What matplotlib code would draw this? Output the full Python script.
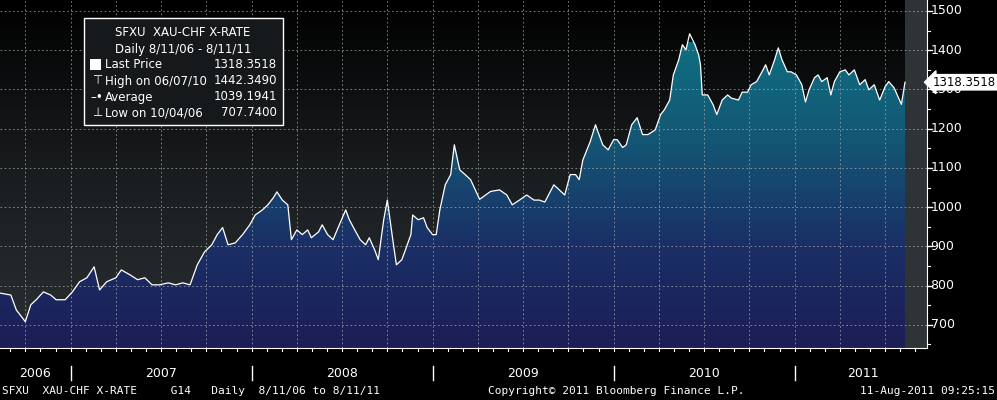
import numpy as np
import matplotlib
matplotlib.use("Agg")
import matplotlib.pyplot as plt
from matplotlib.colors import LinearSegmentedColormap
from matplotlib.patches import Polygon

t = [2006.61,2006.67,2006.70,2006.75,2006.78,2006.81,2006.85,2006.89,2006.92,2006.97,
     2007.01,2007.05,2007.09,2007.13,2007.16,2007.20,2007.25,2007.28,2007.33,2007.37,
     2007.41,2007.45,2007.49,2007.54,2007.58,2007.62,2007.66,2007.70,2007.74,2007.78,
     2007.81,2007.84,2007.87,2007.91,2007.95,2007.99,2008.02,2008.06,2008.09,2008.12,
     2008.14,2008.17,2008.20,2008.22,2008.25,2008.28,2008.31,2008.33,2008.37,2008.39,
     2008.42,2008.45,2008.48,2008.52,2008.54,2008.57,2008.60,2008.63,2008.65,2008.68,
     2008.70,2008.73,2008.75,2008.78,2008.80,2008.83,2008.85,2008.88,2008.89,2008.92,
     2008.95,2008.97,2009.00,2009.02,2009.04,2009.07,2009.10,2009.12,2009.15,2009.18,
     2009.21,2009.26,2009.32,2009.37,2009.41,2009.44,2009.48,2009.52,2009.56,2009.59,
     2009.62,2009.67,2009.70,2009.73,2009.76,2009.79,2009.81,2009.83,2009.87,2009.90,
     2009.91,2009.94,2009.97,2010.00,2010.02,2010.05,2010.07,2010.10,2010.13,2010.16,
     2010.19,2010.23,2010.26,2010.28,2010.31,2010.33,2010.36,2010.38,2010.40,2010.42,
     2010.45,2010.47,2010.48,2010.49,2010.52,2010.55,2010.57,2010.60,2010.63,2010.65,
     2010.69,2010.71,2010.74,2010.76,2010.79,2010.82,2010.84,2010.86,2010.89,2010.91,
     2010.93,2010.96,2010.98,2011.01,2011.04,2011.06,2011.08,2011.11,2011.13,2011.15,
     2011.18,2011.20,2011.22,2011.25,2011.28,2011.30,2011.33,2011.36,2011.39,2011.41,
     2011.44,2011.47,2011.50,2011.52,2011.55,2011.59,2011.61]
price = [781,776,738,708,751,764,784,776,764,764,
         784,810,820,848,789,810,820,840,827,815,
         820,802,802,807,802,807,802,853,886,904,
         930,948,904,909,930,955,980,993,1006,1024,
         1039,1018,1006,917,942,930,942,922,937,955,
         930,917,950,993,968,942,917,904,922,891,
         866,968,1018,917,853,866,891,930,980,968,
         973,948,930,930,993,1057,1083,1159,1095,1083,
         1070,1020,1040,1044,1031,1006,1018,1031,1018,1018,
         1013,1057,1044,1031,1083,1083,1070,1120,1166,1210,
         1197,1159,1146,1172,1172,1152,1159,1210,1228,1185,
         1185,1197,1236,1248,1273,1337,1376,1414,1401,1442,
         1414,1388,1363,1286,1286,1261,1236,1273,1286,1278,
         1273,1293,1293,1312,1320,1345,1363,1337,1376,1406,
         1376,1345,1345,1337,1312,1268,1299,1330,1337,1320,
         1330,1286,1320,1345,1350,1337,1350,1312,1325,1299,
         1312,1273,1307,1320,1304,1262,1318.3518]

year_labels = ["2006", "2007", "2008", "2009", "2010", "2011"]
yticks = [700, 800, 900, 1000, 1100, 1200, 1300, 1400, 1500]

W, H = 997, 400
fig = plt.figure(figsize=(W/100, H/100), dpi=100, facecolor="black")
ax = fig.add_axes([0, 52/400, 927/997, 348/400])
x0, x1 = 2006.61, 2006.61 + 927/181
y0, y1 = 641, 1528
ax.set_xlim(x0, x1); ax.set_ylim(y0, y1)

# background gradient: black at top, dark grey lower
bg = LinearSegmentedColormap.from_list("bg", ["#000000", "#1a1d1f", "#2a2f31"])
ax.imshow(np.linspace(0, 1, 256).reshape(-1, 1), extent=[x0, x1, y0, y1],
          aspect="auto", cmap=bg, zorder=0)
ax.axvspan(t[-1], x1, color="#2e3436", zorder=0.5, lw=0)

# filled area gradient
fc = LinearSegmentedColormap.from_list("fc", ["#1d1d56", "#1a2f66", "#145574", "#0e6f80"])
im = ax.imshow(np.linspace(0, 1, 256).reshape(-1, 1), extent=[x0, t[-1], y0, 1420],
               origin="lower", aspect="auto", cmap=fc, zorder=1)
verts = [(t[0], y0)] + list(zip(t, price)) + [(t[-1], y0)]
poly = Polygon(verts, closed=True, facecolor="none", edgecolor="none")
ax.add_patch(poly)
im.set_clip_path(poly)
ax.plot(t, price, color="white", lw=0.9, zorder=3)

# grid
for y in yticks:
    ax.axhline(y, color="#b0b0b0", lw=0.6, ls=(0, (2, 3)), zorder=2, alpha=0.8)
for q in np.arange(2006.75, x1, 0.25):
    ax.axvline(q, color="#b0b0b0", lw=0.6, ls=(0, (2, 3)), zorder=2, alpha=0.8)

ax.set_xticks([]); ax.set_yticks([])
for s in ["top", "left"]:
    ax.spines[s].set_visible(False)
ax.spines["bottom"].set_color("white")
ax.spines["right"].set_color("white")

# right axis labels
for y in yticks:
    ax.text(x1 + 0.02, y, y, color="white", fontsize=9, va="center", ha="left",
            clip_on=False)
    ax.plot([x1, x1 + 0.03], [y, y], color="white", lw=1, clip_on=False)
for y in np.arange(650, 1550, 100):
    ax.plot([x1, x1 + 0.015], [y, y], color="white", lw=0.8, clip_on=False)
ax.text(x1 + 0.03, price[-1], f"{price[-1]:.4f}", color="black", fontsize=8.5,
        va="center", ha="left", clip_on=False, zorder=10,
        bbox=dict(boxstyle="larrow,pad=0.1", fc="white", ec="white"))

# bottom month ticks
for m in np.arange(2006 + 8/12, x1, 1/12):
    ax.plot([m, m], [y0, y0 - 8], color="white", lw=0.8, clip_on=False)
for yb in [2007, 2008, 2009, 2010, 2011]:
    ax.plot([yb, yb], [y0 - 45, y0 - 82], color="white", lw=1, clip_on=False)
centers = [(x0 + 2007) / 2, 2007.5, 2008.5, 2009.5, 2010.5, (2011 + t[-1] + 0.15) / 2]
for c, lab in zip(centers, year_labels):
    ax.text(c, y0 - 65, lab, color="white", fontsize=9, ha="center", va="center", clip_on=False)

fig.text(2/997, 1 - 391/400, "SFXU  XAU-CHF X-RATE     G14   Daily  8/11/06 to 8/11/11",
         color="white", fontsize=8, family="DejaVu Sans Mono", va="center")
fig.text(488/997, 1 - 391/400, "Copyright\u00a9 2011 Bloomberg Finance L.P.",
         color="white", fontsize=8, family="DejaVu Sans Mono", va="center")
fig.text(995/997, 1 - 391/400, "11-Aug-2011 09:25:15",
         color="white", fontsize=8, family="DejaVu Sans Mono", va="center", ha="right")

# legend box
lx, ly, lw_, lh = 84/997, 1 - 125/400, 199/997, 107/400
fig.patches.append(plt.Rectangle((lx, ly), lw_, lh, transform=fig.transFigure,
                                 fc="#15191b", ec="white", lw=1, zorder=5))
def ft(xp, yp, s, **kw):
    fig.text(xp/997, 1 - yp/400, s, color="white", fontsize=8.5, va="center", zorder=6, **kw)
ft(183, 33, "SFXU  XAU-CHF X-RATE", ha="center")
ft(183, 49, "Daily 8/11/06 - 8/11/11", ha="center")
fig.patches.append(plt.Rectangle((90/997, 1 - 70/400), 11/997, 11/400,
                                 transform=fig.transFigure, fc="white", zorder=6))
rows = [(65, "Last Price", "1318.3518"), (81, "High on 06/07/10", "1442.3490"),
        (97, "Average", "1039.1941"), (113, "Low on 10/04/06", "707.7400")]
for yp, a, b in rows:
    ft(105, yp, a, ha="left")
    ft(277, yp, b, ha="right")
ft(93, 81, "\u22a4", ha="left")
ft(90, 97, "\u2013\u2022", ha="left")
ft(93, 113, "\u22a5", ha="left")

fig.savefig("out.png", dpi=100, facecolor="black")
